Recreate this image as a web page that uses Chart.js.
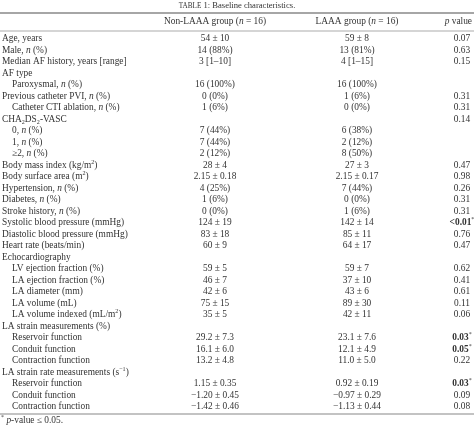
<!DOCTYPE html>
<html><head><meta charset="utf-8">
<script src="https://cdn.jsdelivr.net/npm/chart.js@4/dist/chart.umd.min.js"></script>
<style>html,body{margin:0;padding:0;background:#fff}#w{width:474px;height:426px}</style>
</head><body><div id="w"><canvas id="c"></canvas></div>
<script>
// markup: {i:..} italic, {b:..} bold, _{..} subscript, ^{..} superscript
const rowLabels = [
 "Age, years","Male, {i:n} (%)","Median AF history, years [range]","AF type","  Paroxysmal, {i:n} (%)",
 "Previous catheter PVI, {i:n} (%)","  Catheter CTI ablation, {i:n} (%)","CHA_{2}DS_{2}-VASC","  0, {i:n} (%)","  1, {i:n} (%)","  ≥2, {i:n} (%)",
 "Body mass index (kg/m^{2})","Body surface area (m^{2})","Hypertension, {i:n} (%)","Diabetes, {i:n} (%)","Stroke history, {i:n} (%)",
 "Systolic blood pressure (mmHg)","Diastolic blood pressure (mmHg)","Heart rate (beats/min)","Echocardiography",
 "  LV ejection fraction (%)","  LA ejection fraction (%)","  LA diameter (mm)","  LA volume (mL)","  LA volume indexed (mL/m^{2})",
 "LA strain measurements (%)","  Reservoir function","  Conduit function","  Contraction function",
 "LA strain rate measurements (s^{−1})","  Reservoir function","  Conduit function","  Contraction function"];
const nonLAAA = ["54 ± 10","14 (88%)","3 [1–10]","","16 (100%)","0 (0%)","1 (6%)","","7 (44%)","7 (44%)","2 (12%)",
 "28 ± 4","2.15 ± 0.18","4 (25%)","1 (6%)","0 (0%)","124 ± 19","83 ± 18","60 ± 9","",
 "59 ± 5","46 ± 7","42 ± 6","75 ± 15","35 ± 5","","29.2 ± 7.3","16.1 ± 6.0","13.2 ± 4.8","","1.15 ± 0.35","−1.20 ± 0.45","−1.42 ± 0.46"];
const laaa = ["59 ± 8","13 (81%)","4 [1–15]","","16 (100%)","1 (6%)","0 (0%)","","6 (38%)","2 (12%)","8 (50%)",
 "27 ± 3","2.15 ± 0.17","7 (44%)","0 (0%)","1 (6%)","142 ± 14","85 ± 11","64 ± 17","",
 "59 ± 7","37 ± 10","43 ± 6","89 ± 30","42 ± 11","","23.1 ± 7.6","12.1 ± 4.9","11.0 ± 5.0","","0.92 ± 0.19","−0.97 ± 0.29","−1.13 ± 0.44"];
const pValues = ["0.07","0.63","0.15","","","0.31","0.31","0.14","","","",
 "0.47","0.98","0.26","0.31","0.31","{b:<0.01}^{*}","0.76","0.47","",
 "0.62","0.41","0.61","0.11","0.06","","{b:0.03}^{*}","{b:0.05}^{*}","0.22","","{b:0.03}^{*}","0.09","0.08"];
const headers = ["","Non-LAAA group ({i:n} = 16)","LAAA group ({i:n} = 16)","{i:p} value"];
const footnote = "^{*} {i:p}-value ≤ 0.05.";

const FS = 9.4, FAM = '"Liberation Serif","DejaVu Serif",serif', COL = '#333';
function parse(s){
  const out=[]; let i=0, buf='';
  const flush=()=>{ if(buf){out.push({t:buf,s:''}); buf='';} };
  while(i<s.length){
    let m = s.slice(i).match(/^\{([ib]):([^}]*)\}/) || s.slice(i).match(/^([_^])\{([^}]*)\}/);
    if(m){ flush(); out.push({t:m[2],s:m[1]}); i+=m[0].length; } else { buf+=s[i]; i++; }
  }
  flush(); return out;
}
function fontFor(st){
  if(st==='i') return `italic ${FS}px ${FAM}`;
  if(st==='b') return `bold ${FS}px ${FAM}`;
  if(st==='_'||st==='^') return `${FS*0.65}px ${FAM}`;
  return `${FS}px ${FAM}`;
}
function measure(ctx,s){ let w=0; for(const seg of parse(s)){ctx.font=fontFor(seg.s); w+=ctx.measureText(seg.t).width;} return w; }
function draw(ctx,s,x,y,align){
  const w=measure(ctx,s);
  if(align==='center') x-=w/2; else if(align==='right') x-=w;
  for(const seg of parse(s)){
    ctx.font=fontFor(seg.s);
    const dy = seg.s==='_'?2.5:seg.s==='^'?-3.5:0;
    ctx.fillText(seg.t,x,y+dy); x+=ctx.measureText(seg.t).width;
  }
}
const tablePlugin = {id:'table', afterDraw(chart){
  const ctx=chart.ctx; ctx.save(); ctx.fillStyle=COL; ctx.textBaseline='middle'; ctx.textAlign='left';
  ctx.font=`7.2px ${FAM}`; const tw=ctx.measureText("TABLE").width;
  ctx.font=`8.6px ${FAM}`; const rest=" 1: Baseline characteristics."; const rw=ctx.measureText(rest).width;
  let tx=237-(tw+rw)/2; ctx.font=`7.2px ${FAM}`; ctx.fillText("TABLE",tx,6); ctx.font=`8.6px ${FAM}`; ctx.fillText(rest,tx+tw,6);
  ctx.strokeStyle='#888'; ctx.lineWidth=1.4; ctx.beginPath(); ctx.moveTo(0,13); ctx.lineTo(474,13); ctx.stroke();
  ctx.lineWidth=0.7; ctx.beginPath(); ctx.moveTo(0,31); ctx.lineTo(474,31); ctx.stroke();
  ctx.lineWidth=1.2; ctx.beginPath(); ctx.moveTo(0,414); ctx.lineTo(474,414); ctx.stroke();
  const xs=[2,215,357,462];
  draw(ctx,headers[1],xs[1],22,'center'); draw(ctx,headers[2],xs[2],22,'center'); draw(ctx,headers[3],472,22,'right');
  rowLabels.forEach((lab,r)=>{
    const y=39+r*11.5;
    let ind=0, l=lab; if(l.startsWith('  ')){ind=10; l=l.slice(2);}
    draw(ctx,l,xs[0]+ind,y,'left');
    if(nonLAAA[r]) draw(ctx,nonLAAA[r],xs[1],y,'center');
    if(laaa[r]) draw(ctx,laaa[r],xs[2],y,'center');
    if(pValues[r]) draw(ctx,pValues[r],xs[3],y,'center');
  });
  draw(ctx,footnote,1,421,'left');
  ctx.restore();
}};
new Chart(document.getElementById('c'),{type:'scatter',data:{datasets:[{data:[]}]},
 options:{responsive:true,maintainAspectRatio:false,animation:false,events:[],
  plugins:{legend:{display:false},tooltip:{enabled:false}},
  scales:{x:{display:false},y:{display:false}},layout:{padding:0}},
 plugins:[tablePlugin]});
</script></body></html>
